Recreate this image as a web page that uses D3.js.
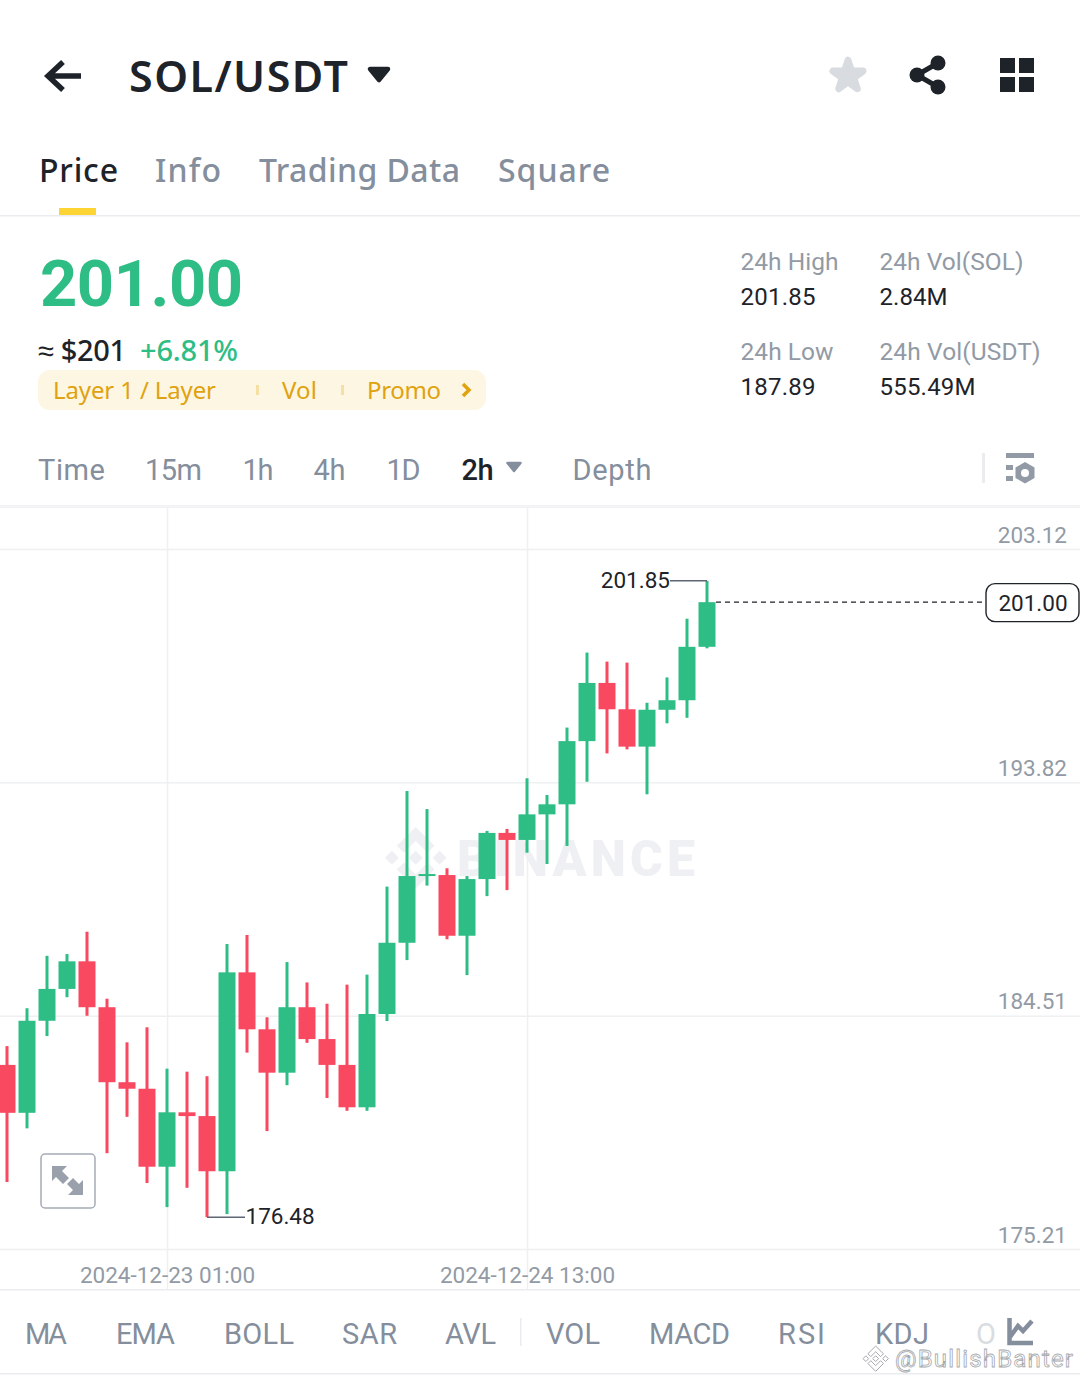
<!DOCTYPE html>
<html>
<head>
<meta charset="utf-8">
<script src="https://cdn.jsdelivr.net/npm/d3@7"></script>
<style>
  html, body { margin: 0; padding: 0; background: #fff; }
  svg { display: block; }
</style>
</head>
<body>
<svg id="viz" width="1080" height="1380"></svg>
<script>
// 2h candles, oldest first
const opens  = [182.55,180.64,184.31,185.58,186.68,184.85,181.86,181.60,178.49,180.66,180.51,178.31,186.24,183.97,182.24,184.85,183.58,182.55,180.86,184.58,187.42,190.08,190.12,187.70,189.96,191.80,191.52,192.54,192.94,195.46,197.78,196.73,195.24,196.71,197.09,199.22];
const highs  = [183.30,184.81,186.90,186.97,187.86,185.19,183.45,184.05,182.40,182.28,182.10,187.37,187.73,184.45,186.65,185.84,184.99,185.75,186.15,189.66,193.47,192.75,190.39,190.08,191.88,191.96,193.98,193.31,196.00,198.99,198.63,198.59,196.99,198.00,200.34,201.85];
const lows   = [177.88,180.02,183.70,185.25,184.51,179.03,180.48,177.84,176.88,177.65,176.48,176.60,183.04,179.91,181.74,183.43,181.23,180.72,180.72,184.30,186.73,189.70,187.56,186.13,189.28,189.52,191.01,190.56,191.28,193.84,194.97,195.13,193.34,196.17,196.39,199.16];
const closes = [180.64,184.31,185.58,186.68,184.85,181.86,181.60,178.49,180.66,180.51,178.31,186.24,183.97,182.24,184.85,183.58,182.55,180.86,184.58,187.42,190.08,190.16,187.70,189.96,191.80,191.52,192.54,192.94,195.46,197.78,196.73,195.24,196.71,197.09,199.22,201.00];

const priceTicks = [203.12, 193.82, 184.51, 175.21];
const dateTicks = ["2024-12-23 01:00", "2024-12-24 13:00"];
const firstCandle = "2024-12-22 09:00";
const lastPrice = 201.00, highLabel = 201.85, lowLabel = 176.48;

const tabs = ["Price", "Info", "Trading Data", "Square"];
const intervals = ["Time", "15m", "1h", "4h", "1D", "2h", "Depth"];
const indicators = ["MA", "EMA", "BOLL", "SAR", "AVL", "VOL", "MACD", "RSI", "KDJ", "O"];
const tags = ["Layer 1 / Layer", "Vol", "Promo"];
const stats = [["24h High", "201.85"], ["24h Vol(SOL)", "2.84M"], ["24h Low", "187.89"], ["24h Vol(USDT)", "555.49M"]];

const GREEN = "#2ebd85", RED = "#f84960", DARK = "#1e2329", GREY = "#848e9c", SOFT = "#929aa5", LINE = "#eef0f2";
const UI = "'Noto Sans', sans-serif", NUM = "Roboto, sans-serif";

const svg = d3.select("#viz");
const parse = d3.utcParse("%Y-%m-%d %H:%M");
const fmt = d3.utcFormat("%Y-%m-%d %H:%M");

const x = d3.scaleUtc().domain([parse(dateTicks[0]), parse(dateTicks[1])]).range([167, 527]);
const y = d3.scaleLinear().domain([175.21, 203.12]).range([1249, 549]);

const candles = opens.map((o, i) => ({
  t: d3.utcHour.offset(parse(firstCandle), i * 2),
  o, h: highs[i], l: lows[i], c: closes[i]
}));

function label(g, str, px, py, size, fill, opts) {
  opts = opts || {};
  const t = g.append("text")
    .attr("x", px).attr("y", py)
    .attr("font-family", opts.font || UI)
    .attr("font-size", size)
    .attr("font-weight", opts.weight || 400)
    .attr("fill", fill)
    .text(str);
  if (opts.w) t.attr("textLength", opts.w).attr("lengthAdjust", "spacing");
  if (opts.anchor) t.attr("text-anchor", opts.anchor);
  return t;
}

// ---- header ----
const head = svg.append("g");
head.append("path").attr("d", "M81 76H49M63 62L48 76L63 90")
  .attr("fill", "none").attr("stroke", DARK).attr("stroke-width", 5.5);
label(head, "SOL/USDT", 129, 92, 43, DARK, { weight: 600, w: 219 });
head.append("path").attr("d", "M370 69H388L379 80Z")
  .attr("fill", DARK).attr("stroke", DARK).attr("stroke-width", 4.5).attr("stroke-linejoin", "round");

head.append("path").attr("d", d3.symbol(d3.symbolStar, 280)())
  .attr("transform", "translate(848,76)")
  .attr("fill", "#d8dbe0").attr("stroke", "#d8dbe0").attr("stroke-width", 7).attr("stroke-linejoin", "round");

const share = head.append("g").attr("fill", DARK);
share.append("path").attr("d", "M938 63L917 75L938 87").attr("fill", "none").attr("stroke", DARK).attr("stroke-width", 5);
[[938, 63], [917, 75], [938, 87]].forEach(p => share.append("circle").attr("cx", p[0]).attr("cy", p[1]).attr("r", 7.5));

[[1000, 58], [1019, 58], [1000, 77], [1019, 77]].forEach(p =>
  head.append("rect").attr("x", p[0]).attr("y", p[1]).attr("width", 15).attr("height", 15).attr("fill", DARK));

// tabs
const tabX = [39, 155, 259, 498], tabW = [79, 66, 201, 112];
tabs.forEach((s, i) => label(head, s, tabX[i], 182, 32, i === 0 ? DARK : GREY, { weight: 500, w: tabW[i] }));
head.append("rect").attr("x", 59).attr("y", 208).attr("width", 37).attr("height", 7).attr("fill", "#fcd535");
head.append("rect").attr("x", 0).attr("y", 215).attr("width", 1080).attr("height", 1.5).attr("fill", "#eaecef");

// last price block
label(head, "201.00", 40, 306, 65, GREEN, { font: NUM, weight: 700, w: 203 });
label(head, "≈ $201", 38, 361, 29, DARK, { weight: 500, w: 88 });
label(head, "+6.81%", 140, 361, 29, GREEN, { weight: 500, w: 98 });

head.append("rect").attr("x", 38).attr("y", 370).attr("width", 448).attr("height", 40).attr("rx", 12).attr("fill", "#fdf6e3");
const tagX = [53, 282, 367], tagW = [163, 35, 74];
tags.forEach((s, i) => label(head, s, tagX[i], 399, 24, "#e0a20e", { w: tagW[i] }));
[256, 341].forEach(px => head.append("rect").attr("x", px).attr("y", 385).attr("width", 3).attr("height", 10).attr("fill", "#f5e0a4"));
head.append("path").attr("d", "M463 384L469 390L463 396").attr("fill", "none").attr("stroke", "#e0a20e").attr("stroke-width", 3.5);

// 24h stats
const statX = [740.5, 879.5, 740.5, 879.5], statY = [270, 270, 360, 360], statW = [98, 144, 93, 161], valW = [75, 68, 75, 96];
stats.forEach((s, i) => {
  label(head, s[0], statX[i], statY[i], 24.5, SOFT, { font: NUM, w: statW[i] });
  label(head, s[1], statX[i], statY[i] + 35, 24, DARK, { font: NUM, w: valW[i] });
});

// interval row
const ivX = [38, 145, 242.5, 313.5, 386.5, 461.5, 572.5], ivW = [67, 57, 31, 32, 34, 32, 79];
intervals.forEach((s, i) => label(head, s, ivX[i], 480, 29, s === "2h" ? DARK : GREY, { font: NUM, weight: s === "2h" ? 500 : 400, w: ivW[i] }));
head.append("path").attr("d", "M507.5 463H520.5L514 471Z").attr("fill", GREY).attr("stroke", GREY).attr("stroke-width", 2.5).attr("stroke-linejoin", "round");
head.append("rect").attr("x", 982).attr("y", 453).attr("width", 3).attr("height", 30).attr("fill", "#eaecef");
const gear = head.append("g").attr("fill", SOFT);
gear.append("rect").attr("x", 1006).attr("y", 453).attr("width", 28).attr("height", 5);
gear.append("rect").attr("x", 1006).attr("y", 465).attr("width", 7).attr("height", 5);
gear.append("rect").attr("x", 1006).attr("y", 476).attr("width", 7).attr("height", 5);
gear.append("path").attr("d", "M1025 462L1034.5 467.5V478L1025 483.5L1015.5 478V467.5Z");
gear.append("circle").attr("cx", 1025).attr("cy", 473).attr("r", 4).attr("fill", "#fff");
head.append("rect").attr("x", 0).attr("y", 505).attr("width", 1080).attr("height", 3).attr("fill", "#f2f3f5");

// ---- chart ----
const chart = svg.append("g");

// price axis, gridlines run the full width
const yAxis = chart.append("g").attr("transform", "translate(1080,0)")
  .call(d3.axisRight(y).tickValues(priceTicks).tickSize(-1080).tickFormat(d3.format(".2f")));
yAxis.select(".domain").remove();
yAxis.selectAll("line").attr("stroke", LINE).attr("stroke-width", 1.5);
yAxis.selectAll("text")
  .attr("x", -13).attr("dy", -7).attr("text-anchor", "end")
  .attr("font-family", NUM).attr("font-size", 22.5).attr("fill", SOFT);

// time axis with vertical gridlines
const xAxis = chart.append("g").attr("transform", "translate(0,1289)")
  .call(d3.axisBottom(x).tickValues(dateTicks.map(parse)).tickSize(-782).tickFormat(fmt));
xAxis.select(".domain").remove();
xAxis.selectAll("line").attr("stroke", LINE).attr("stroke-width", 1.5);
xAxis.selectAll("text")
  .attr("y", -6).attr("dy", 0)
  .attr("font-family", NUM).attr("font-size", 22.5).attr("fill", SOFT);

// BINANCE watermark sits behind the candles
const LOGO = "M38.73 53.2l24.59-24.58 24.6 24.6 14.3-14.31L63.32 0 24.43 38.89zM0 63.31l14.3-14.31 14.31 14.31-14.31 14.3zM38.73 73.41l24.59 24.59 24.6-24.6 14.31 14.29-38.9 38.91-38.91-38.88zM98.28 63.31l14.3-14.31 14.31 14.31-14.31 14.3zM77.83 63.3L63.32 48.78 52.59 59.51l-1.24 1.23-2.54 2.54 14.51 14.52 14.51-14.52z";
chart.append("path").attr("d", LOGO).attr("transform", "translate(385,827) scale(0.485)").attr("fill", "#eef0f3");
label(chart, "BINANCE", 457, 876, 50, "#eef0f3", { font: NUM, weight: 900, w: 238 });

const marks = chart.append("g").selectAll("g")
  .data(candles)
  .join("g")
  .attr("fill", d => d.c >= d.o ? GREEN : RED);
marks.append("rect")
  .attr("x", d => x(d.t) - 1.5).attr("width", 3)
  .attr("y", d => y(d.h)).attr("height", d => y(d.l) - y(d.h));
marks.append("rect")
  .attr("x", d => x(d.t) - 8.5).attr("width", 17)
  .attr("y", d => y(Math.max(d.o, d.c)))
  .attr("height", d => Math.max(1.5, Math.abs(y(d.o) - y(d.c))));

// high / low callouts
const hiC = candles.find(d => d.h === highLabel), loC = candles.find(d => d.l === lowLabel);
chart.append("path")
  .attr("d", d3.line()([[x(hiC.t), y(highLabel)], [x(hiC.t) - 37, y(highLabel)]]))
  .attr("stroke", "#5e6673").attr("stroke-width", 1.5);
label(chart, d3.format(".2f")(highLabel), x(hiC.t) - 37, y(highLabel) + 7, 22.5, DARK, { font: NUM, anchor: "end" });
chart.append("path")
  .attr("d", d3.line()([[x(loC.t), y(lowLabel)], [x(loC.t) + 38, y(lowLabel)]]))
  .attr("stroke", "#5e6673").attr("stroke-width", 1.5);
label(chart, d3.format(".2f")(lowLabel), x(loC.t) + 38.5, y(lowLabel) + 7, 22.5, DARK, { font: NUM });

// current price line and tag
const lastC = candles[candles.length - 1];
chart.append("line")
  .attr("x1", x(lastC.t) + 9).attr("x2", 985)
  .attr("y1", y(lastPrice)).attr("y2", y(lastPrice))
  .attr("stroke", DARK).attr("stroke-width", 1.3).attr("stroke-dasharray", "5 4");
chart.append("rect").attr("x", 986).attr("y", y(lastPrice) - 18.5).attr("width", 93).attr("height", 38).attr("rx", 9)
  .attr("fill", "#fff").attr("stroke", DARK).attr("stroke-width", 1.4);
label(chart, d3.format(".2f")(lastPrice), 1033, y(lastPrice) + 9, 22.5, DARK, { font: NUM, anchor: "middle" });

// fullscreen button
const btn = chart.append("g");
btn.append("rect").attr("x", 41).attr("y", 1154).attr("width", 54).attr("height", 54).attr("rx", 4)
  .attr("fill", "#fff").attr("stroke", "#a5abb5").attr("stroke-width", 1.5);
btn.append("path").attr("d", "M52 1166H67L62 1171L69 1178L63 1184L56 1177L52 1181Z").attr("fill", "#9aa1ac");
btn.append("path").attr("d", "M83 1195H68L73 1190L67 1184L73 1178L79 1184L83 1180Z").attr("fill", "#9aa1ac");

// ---- indicator row ----
const bottom = svg.append("g");
bottom.append("rect").attr("x", 0).attr("y", 1289).attr("width", 1080).attr("height", 1.5).attr("fill", "#eaecef");
const indX = [25, 116, 224, 342, 445, 546, 649, 778, 875, 976], indW = [42, 59, 70, 55, 51, 54, 81, 47, 54, 19];
indicators.forEach((s, i) => label(bottom, s, indX[i], 1344, 29, s === "O" ? "#d9dce1" : GREY, { font: NUM, w: indW[i] }));
bottom.append("rect").attr("x", 520).attr("y", 1318).attr("width", 1.5).attr("height", 28).attr("fill", "#eaecef");
bottom.append("path").attr("d", "M1009.5 1318V1343H1033M1010 1337L1018 1326L1023 1331L1032 1321")
  .attr("fill", "none").attr("stroke", GREY).attr("stroke-width", 4.5);
bottom.append("rect").attr("x", 0).attr("y", 1373).attr("width", 1080).attr("height", 1.5).attr("fill", "#eaecef");

// photo credit stamp
bottom.append("path").attr("d", LOGO).attr("transform", "translate(863,1346) scale(0.2)")
  .attr("fill", "#fff").attr("stroke", "#a5a9ad").attr("stroke-width", 5);
label(bottom, "@BullishBanter", 895, 1367, 24, "#fff", { font: NUM, w: 178 })
  .attr("stroke", "#a5a9ad").attr("stroke-width", 0.8);
</script>
</body>
</html>
